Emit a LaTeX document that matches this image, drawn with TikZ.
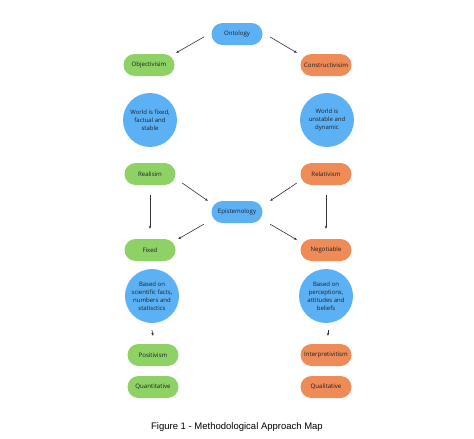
\documentclass[tikz,border=0pt]{standalone}
\usepackage{fontspec}
\usepackage{tikz}
\usetikzlibrary{arrows.meta}
\setmainfont{Liberation Sans}
\newfontfamily\nodefont{Open Sans}
\definecolor{skyblue}{RGB}{92, 177, 245}
\definecolor{leafgreen}{RGB}{142, 209, 100}
\definecolor{peach}{RGB}{238, 139, 86}
\definecolor{inkdark}{RGB}{25, 32, 40}

\begin{document}
\begin{tikzpicture}[
  x=1pt, y=-1pt,
  pill/.style={rounded corners=11pt, minimum width=51pt, minimum height=22pt, inner sep=0pt, text=inkdark, font=\nodefont\fontsize{6.1}{7}\selectfont},
  blob/.style={circle, fill=skyblue, minimum size=54pt, inner sep=0pt, align=center, text=inkdark, font=\nodefont\fontsize{6}{8}\selectfont},
  arr/.style={-{Stealth[length=3pt, width=2.5pt]}, line width=0.6pt, draw=black!80}
]
  \useasboundingbox (0,0) rectangle (474,439);

  % Ontology branch
  \node[pill, fill=skyblue] (onto) at (237,34) {Ontology};
  \node[pill, fill=leafgreen] (obj) at (149,65) {Objectivisim};
  \node[pill, fill=peach] (cons) at (326,65) {Constructivisim};

  \node[blob] (fixworld) at (150,120) {World is fixed,\\factual and\\stable};
  \node[blob] (dynworld) at (327,120) {World is\\unstable and\\dynamic};

  \node[pill, fill=leafgreen] (real) at (150,174) {Realisim};
  \node[pill, fill=peach] (rel) at (326,174) {Relativism};

  % Epistemology branch
  \node[pill, fill=skyblue] (epi) at (237,212) {Epistemology};

  \node[pill, fill=leafgreen] (fixed) at (150,250) {Fixed};
  \node[pill, fill=peach] (nego) at (326,250) {Negotiable};

  \node[blob] (facts) at (152,296) {Based on\\scientific facts,\\numbers and\\statisctics};
  \node[blob] (percep) at (326,296) {Based on\\perceptions,\\attitudes and\\beliefs};

  \node[pill, fill=leafgreen] (posit) at (153,355) {Positivism};
  \node[pill, fill=peach] (interp) at (326,355) {Interpretivitism};

  \node[pill, fill=leafgreen] (quant) at (153,387) {Quantitative};
  \node[pill, fill=peach] (qual) at (326,387) {Qualitative};

  \node[font=\fontsize{9.5}{11}\selectfont] (caption) at (237,427) {Figure 1 - Methodological Approach Map};

  % Arrows
  \draw[arr] ([xshift=-7.5pt,yshift=-3pt]onto.west) -- ([xshift=1.5pt,yshift=1pt]obj.north east);
  \draw[arr] ([xshift=7.5pt,yshift=-3pt]onto.east) -- ([xshift=-3.5pt,yshift=1pt]cons.north west);
  \draw[arr] ([xshift=6.5pt,yshift=-9pt]real.east) -- ([xshift=-3.5pt,yshift=0pt]epi.north west);
  \draw[arr] ([xshift=-3.5pt,yshift=-9pt]rel.west) -- ([xshift=7.5pt,yshift=0pt]epi.north east);
  \draw[arr] ([yshift=-10pt]real.south) -- ([yshift=10pt]fixed.north);
  \draw[arr] ([yshift=-10pt]rel.south) -- ([yshift=10pt]nego.north);
  \draw[arr] ([xshift=-7.5pt,yshift=-1pt]epi.south west) -- ([xshift=2.5pt,yshift=11pt]fixed.east);
  \draw[arr] ([xshift=7.5pt,yshift=-1pt]epi.south east) -- ([xshift=-3.5pt,yshift=-1pt]nego.north west);
  \draw[arr] ([yshift=-7pt]facts.south) -- ([yshift=8pt]posit.north);
  \draw[arr] ([xshift=2pt,yshift=-7pt]percep.south) -- ([xshift=2pt,yshift=8pt]interp.north);
\end{tikzpicture}
\end{document}
